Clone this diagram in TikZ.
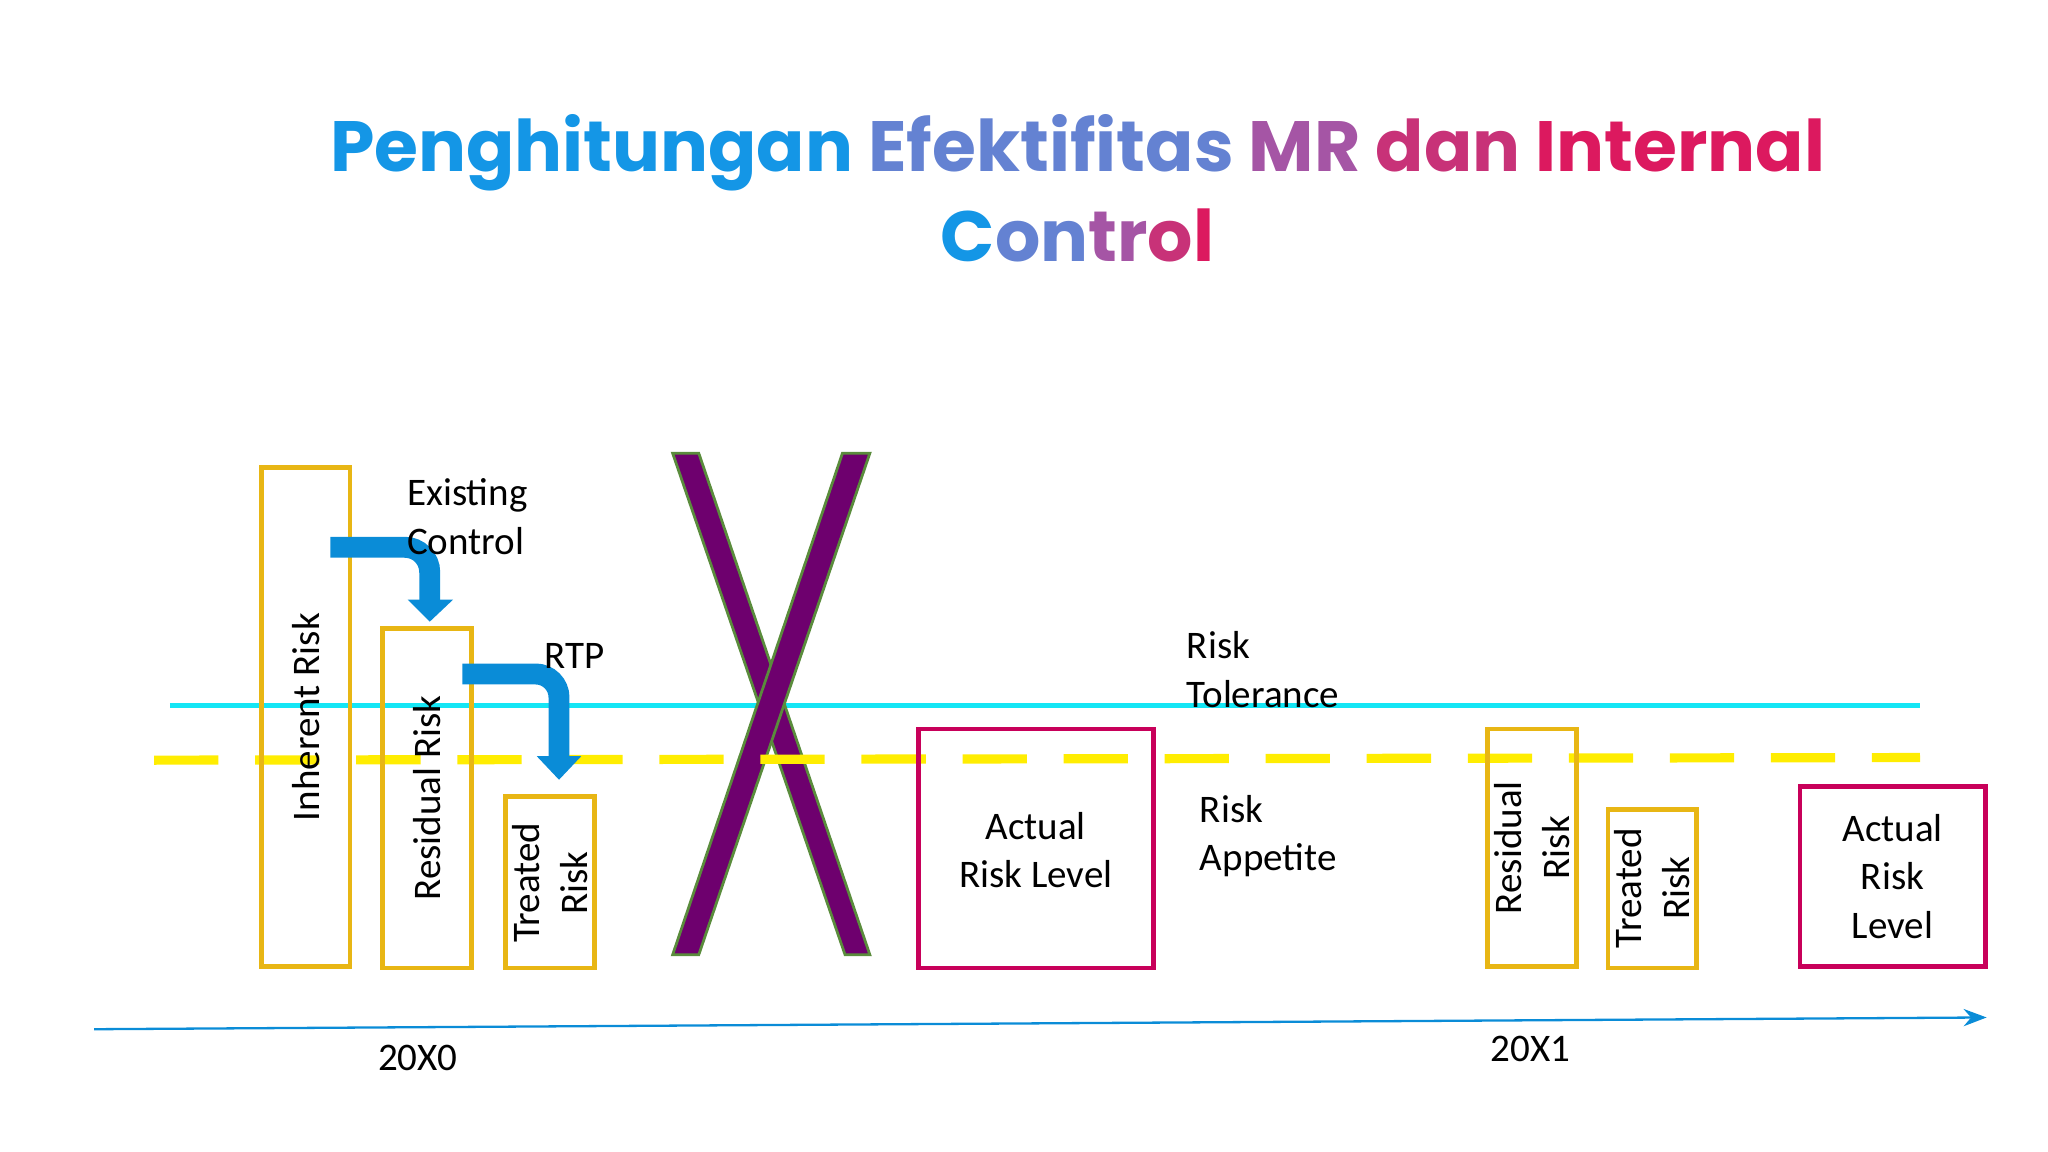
\documentclass[tikz,border=0pt]{standalone}
\usepackage{fontspec}
\usetikzlibrary{arrows.meta}
\setmainfont{Carlito}
\newfontfamily\titlefont{Poppins}
\definecolor{gold}{RGB}{232,182,20}
\definecolor{pinkc}{RGB}{200,0,90}
\definecolor{arrblue}{RGB}{10,140,215}
\definecolor{xpurple}{RGB}{110,0,110}
\definecolor{xgreen}{RGB}{90,140,60}
\definecolor{cyanl}{RGB}{20,230,245}
\definecolor{tA}{RGB}{20,150,230}
\definecolor{tB}{RGB}{100,130,210}
\definecolor{tC}{RGB}{165,85,165}
\definecolor{tD}{RGB}{200,50,120}
\definecolor{tE}{RGB}{220,25,95}
\begin{document}
\begin{tikzpicture}[x=0.01cm,y=-0.01cm,
  gbox/.style={draw=gold,line width=1pt},
  pbox/.style={draw=pinkc,line width=1pt},
  lbl/.style={font=\fontsize{8.5}{10.5}\selectfont,align=left,anchor=north west,inner sep=0pt},
  rlbl/.style={font=\fontsize{8.5}{10.5}\selectfont,align=center,rotate=90,inner sep=0pt},
  xstroke/.style={fill=xpurple,draw=xgreen,line width=0.6pt},
  bent/.style={draw=arrblue,line width=0.16cm},
  head/.style={fill=arrblue}]
\useasboundingbox (0,0) rectangle (1568,882);
% title
\node[font=\titlefont\bfseries\fontsize{15.5}{18}\selectfont,inner sep=0pt] (t1) at (825,117)
 {\textcolor{tA}{Penghitungan} \textcolor{tB}{Efektifitas} \textcolor{tC}{MR} \textcolor{tD}{dan} \textcolor{tE}{Internal}};
\node[font=\titlefont\bfseries\fontsize{15.5}{18}\selectfont,inner sep=0pt] (t2) at (825,180)
 {\textcolor{tA}{C}\textcolor{tB}{o}\textcolor{tB}{n}\textcolor{tC}{t}\textcolor{tC}{r}\textcolor{tD}{o}\textcolor{tE}{l}};
% lines
\coordinate (cl) at (130,540); \coordinate (cr) at (1470,540);
\draw[cyanl,line width=1.2pt] (cl) -- (cr);
% X
\draw[xstroke] (515,347) -- (535,347) -- (666,731) -- (647,731) -- cycle;
\draw[xstroke] (645,347) -- (666,347) -- (535,731) -- (515,731) -- cycle;
\coordinate (yl) at (118,582); \coordinate (yr) at (1470,580);
\draw[yellow!95!orange,line width=2pt,dash pattern=on 14pt off 8pt] (yl) -- (yr);
% boxes 20X0
\draw[gbox] (200,358) rectangle (268,740);
\node[rlbl] (irt) at (234,549) {Inherent Risk};
\draw[gbox] (293,481) rectangle (361,741);
\node[rlbl] (rrt) at (327,611) {Residual Risk};
\draw[gbox] (387,610) rectangle (455,741);
\node[rlbl] (trt) at (421,676) {Treated\\Risk};
% bent arrows
\draw[bent] (253,419) -- (310,419) arc[start angle=-90,end angle=0,radius=19] -- (329,460);
\fill[head] (312,459) -- (347,459) -- (329,476) -- cycle;
\draw[bent] (354,516) -- (410,516) arc[start angle=-90,end angle=0,radius=18] -- (428,580);
\fill[head] (411,579) -- (445,579) -- (428,597) -- cycle;
\node[lbl] (ec) at (311,366) {Existing\\Control};
\node[lbl] (rtp) at (416,492) {RTP};
% actual risk 20X0
\draw[pbox] (703,558) rectangle (883,741);
\node[font=\fontsize{8.5}{10.5}\selectfont,align=center] (arl) at (793,651) {Actual\\Risk Level};
\node[lbl] (rt) at (908,483) {Risk\\Tolerance};
\node[lbl] (ra) at (918,608) {Risk\\Appetite};
% 20X1
\draw[gbox] (1139,558) rectangle (1207,740);
\node[rlbl] (rr2) at (1173,649) {Residual\\Risk};
\draw[gbox] (1231,620) rectangle (1299,741);
\node[rlbl] (tr2) at (1265,680) {Treated\\Risk};
\draw[pbox] (1378,602) rectangle (1520,740);
\node[font=\fontsize{8.5}{10.5}\selectfont,align=center] (arl2) at (1449,671) {Actual\\Risk\\Level};
% axis
\coordinate (a0) at (72,788); \coordinate (a1) at (1521,779);
\draw[arrblue,line width=0.5pt,-{Stealth[length=5pt]}] (a0) -- (a1);
\node[font=\fontsize{8.5}{10.5}\selectfont] (y0) at (320,810) {20X0};
\node[font=\fontsize{8.5}{10.5}\selectfont] (y1) at (1172,803) {20X1};
\end{tikzpicture}
\end{document}
